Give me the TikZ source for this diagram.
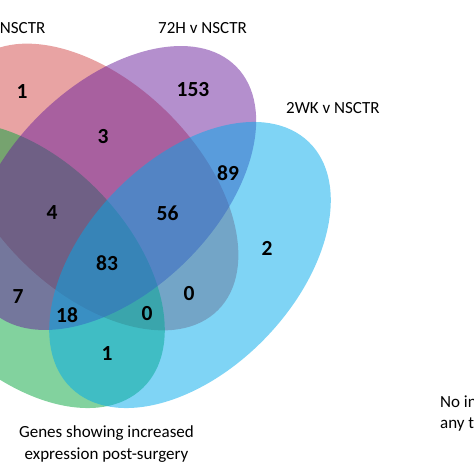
\documentclass[tikz,border=0pt]{standalone}
\usepackage{fontspec}
\setmainfont{Carlito}
\usepackage{tikz}
\definecolor{setred}{HTML}{D14747}
\definecolor{setgreen}{HTML}{05A53D}
\definecolor{setpurple}{HTML}{691F9B}
\definecolor{setblue}{HTML}{00A9EB}

\begin{document}
\begin{tikzpicture}[
    x=1pt, y=-1pt,
    venn/.style={fill opacity=0.5},
    num/.style={inner sep=0pt, font=\fontsize{21.5}{24}\selectfont\bfseries},
    lab/.style={inner sep=0pt, font=\fontsize{17}{20}\selectfont}
  ]
  \useasboundingbox (0,0) rectangle (474,474);
  \clip (0,0) rectangle (474,474);

  % --- sets
  \fill[venn, setred, rotate around={-45:(95,187)}] (95,187) ellipse (174 and 104);
  \fill[venn, setgreen, rotate around={-46:(24,265)}] (24,265) ellipse (171 and 105);
  \fill[venn, setpurple, rotate around={44.5:(113,188)}] (113,188) ellipse (173 and 103.5);
  \fill[venn, setblue, rotate around={46:(190,265)}] (190,265) ellipse (171 and 105);

  % --- set names
  \node[lab, anchor=base east] (nameR) at (45.5,33.5) {NSCTR};
  \node[lab, anchor=base west] (nameP) at (158,33.5) {72H v NSCTR};
  \node[lab, anchor=base west] (nameB) at (286,113) {2WK v NSCTR};

  % --- counts
  \node[num] (onlyR) at (22,91.5) {1};
  \node[num] (onlyP) at (193,90) {153};
  \node[num] (RP) at (103,137) {3};
  \node[num] (PB) at (228,173) {89};
  \node[num] (GRP) at (52,213) {4};
  \node[num] (RPB) at (167.5,213) {56};
  \node[num] (onlyB) at (267,248) {2};
  \node[num] (GRPB) at (107,263) {83};
  \node[num] (GP) at (18,297) {7};
  \node[num] (GPB) at (67,315) {18};
  \node[num] (RB) at (189,294) {0};
  \node[num] (GRB) at (147,314) {0};
  \node[num] (GB) at (107,353.5) {1};

  % --- captions
  \node[lab, anchor=base] (upA) at (106.5,437) {Genes showing increased};
  \node[lab, anchor=base] (upB) at (106.5,459) {expression post-surgery};
  \node[lab, anchor=base west] (noA) at (440,407) {No in};
  \node[lab, anchor=base west] (noB) at (440,428) {any t};

\end{tikzpicture}
\end{document}
